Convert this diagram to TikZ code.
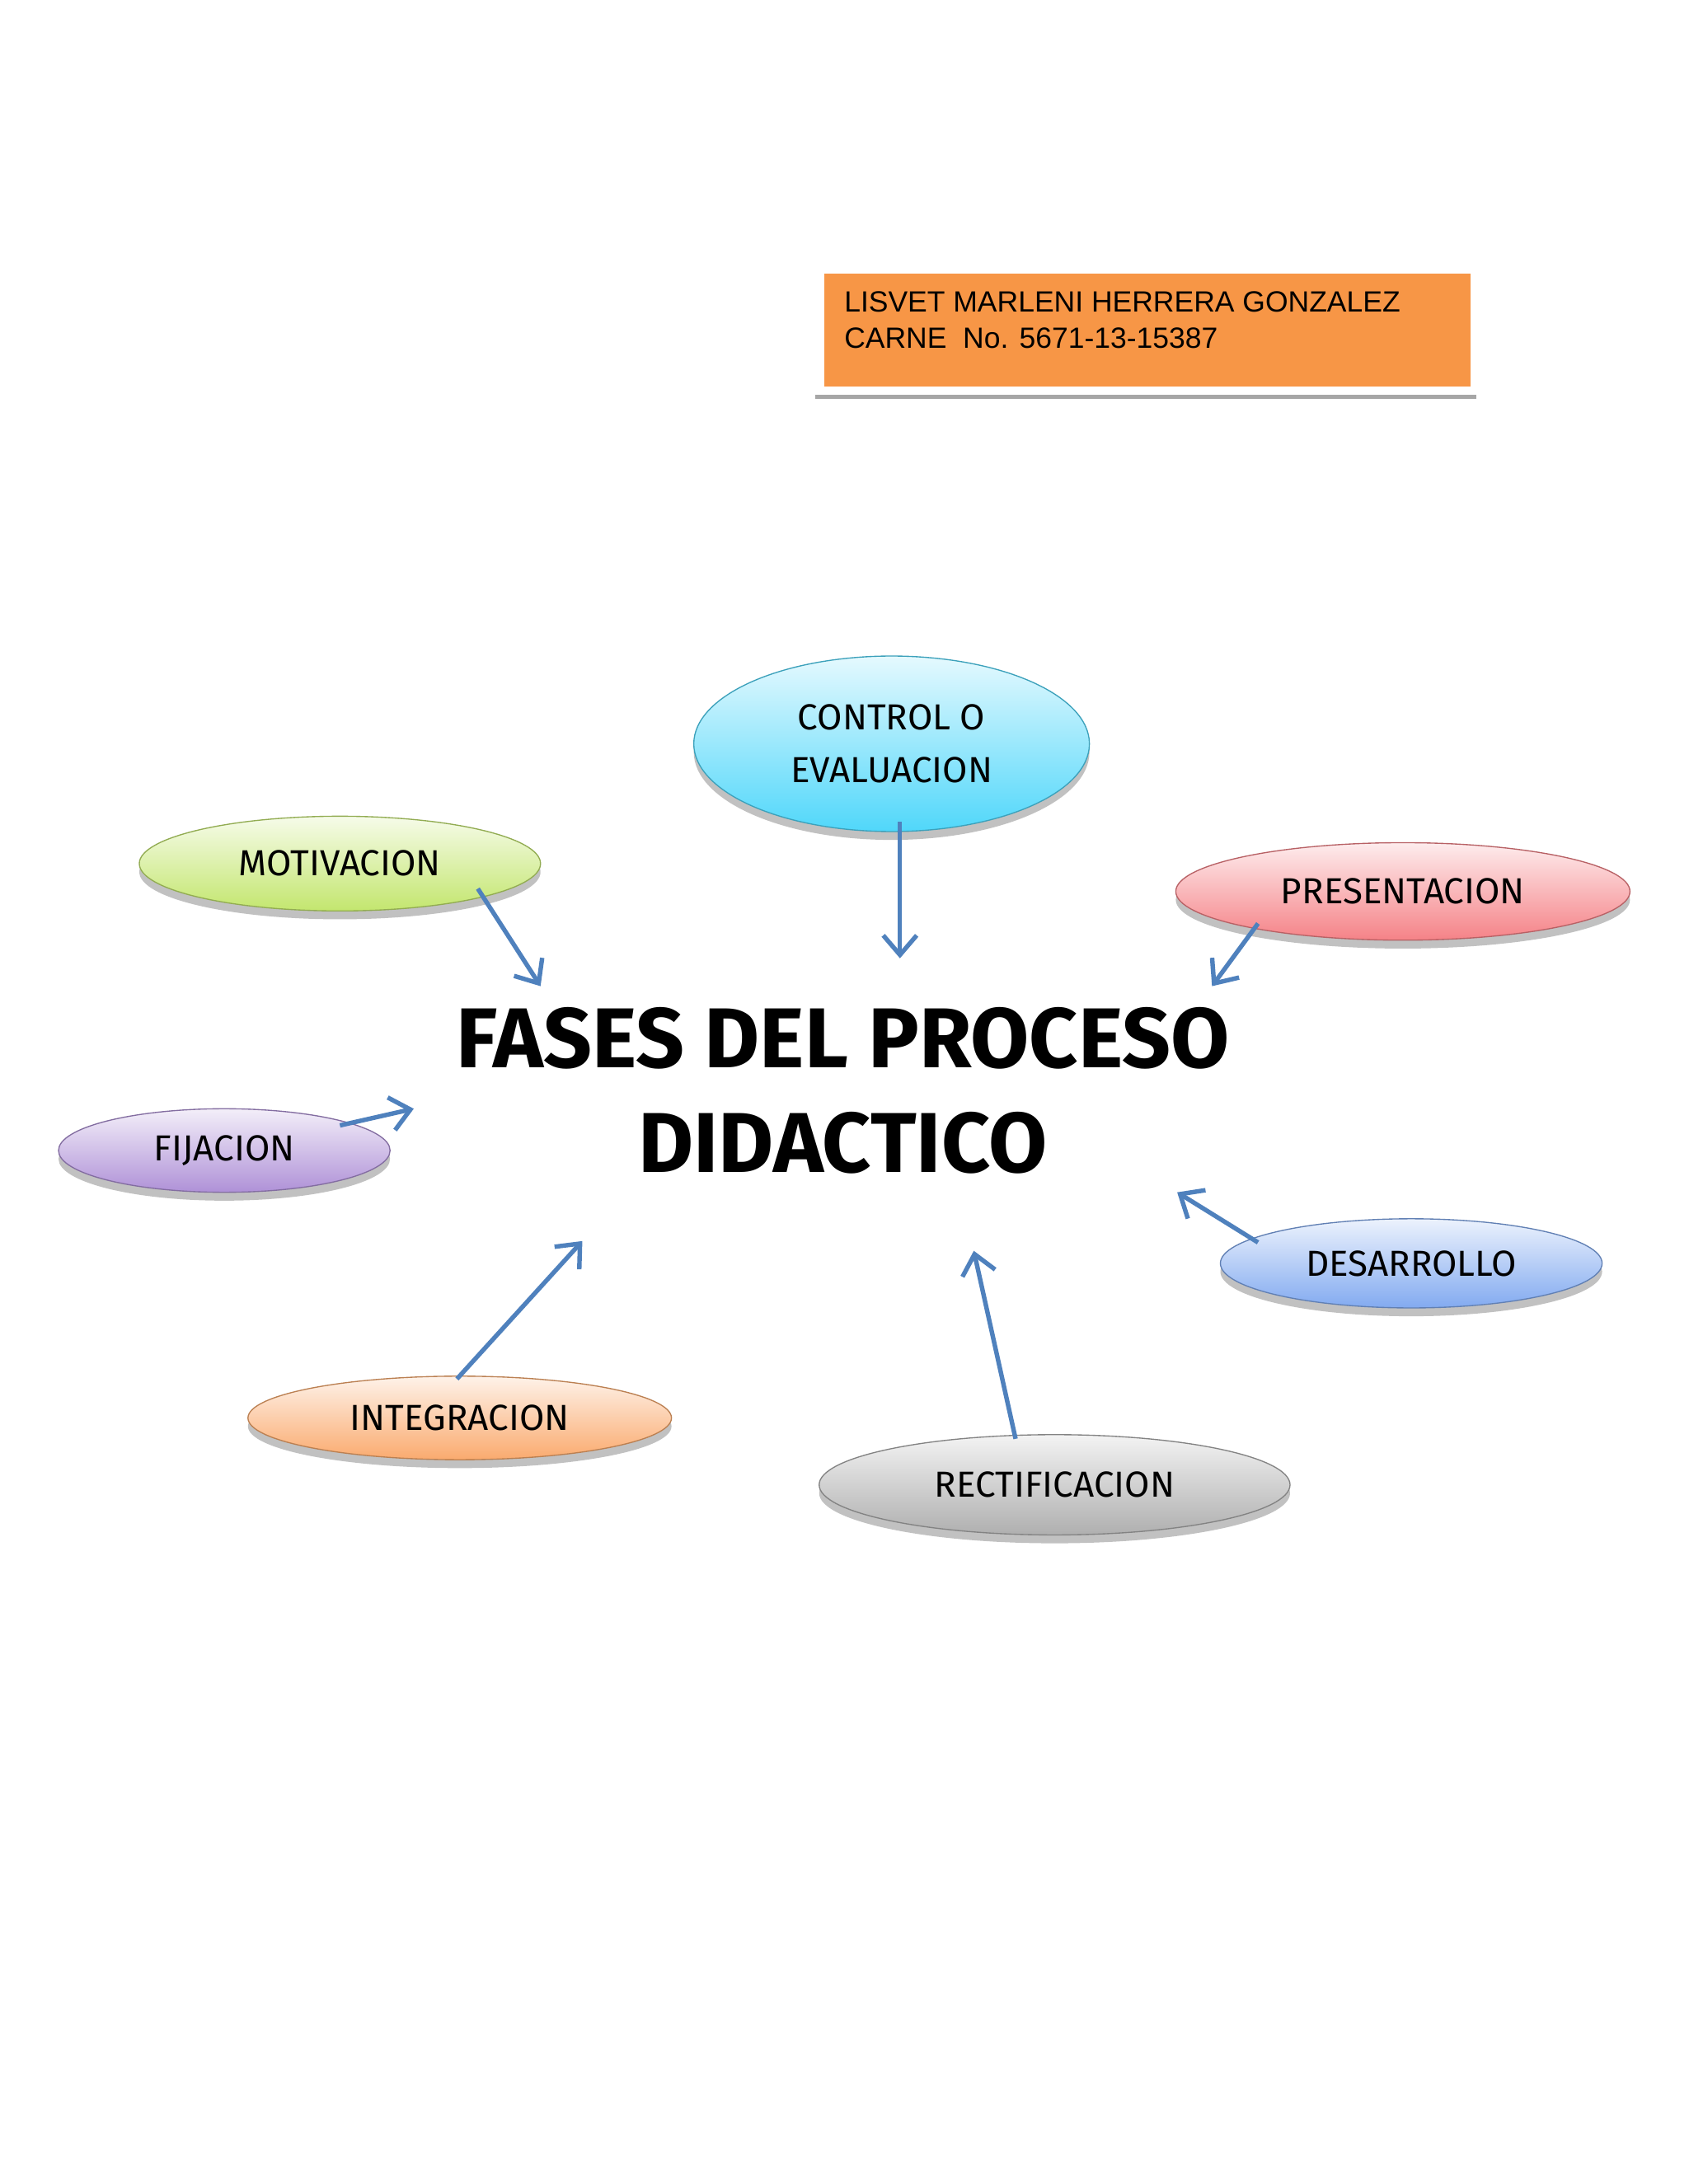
\documentclass[tikz,border=0pt]{standalone}
\usepackage{fontspec}
\setmainfont{Fira Sans}
\newfontfamily\boxfont{Liberation Sans}
\usetikzlibrary{shapes.geometric,arrows.meta,shadows}
\definecolor{arrowblue}{RGB}{79,129,189}
\definecolor{boxor}{RGB}{247,150,70}
\definecolor{cCy}{RGB}{80,215,250}
\definecolor{cGr}{RGB}{195,230,110}
\definecolor{cRe}{RGB}{245,130,135}
\definecolor{cVi}{RGB}{175,145,215}
\definecolor{cBl}{RGB}{130,170,240}
\definecolor{cOr}{RGB}{250,170,110}
\definecolor{cGy}{RGB}{175,175,175}
\tikzset{
 ph/.style={ellipse,draw=#1!75!black,top color=#1!15!white,bottom color=#1,inner sep=0pt,font=\fontsize{13}{15}\selectfont,
   drop shadow={shadow xshift=0pt,shadow yshift=-3pt,fill=black!40,opacity=.6}},
 arr/.style={draw=arrowblue,line width=1.6pt,-{Straight Barb[length=7pt,width=12pt]}}
}
\begin{document}
\begin{tikzpicture}[x=0.5pt,y=-0.5pt]
\useasboundingbox (0,0) rectangle (1212,1568);
\fill[white] (0,0) rectangle (1212,1568);
\node[fill=boxor,minimum width=232pt,minimum height=40.5pt,anchor=north west,inner sep=0pt] (box) at (591,196) {};
\node[anchor=west,font=\boxfont\fontsize{10.5}{13}\selectfont,align=left] (boxt) at (599,230) {LISVET MARLENI HERRERA GONZALEZ\\CARNE\ \ No. 5671-13-15387};
\draw[black!35,line width=1.5pt] (585,285) -- (1060,285);
\node[ph=cCy,minimum width=142pt,minimum height=63pt,align=center,font=\fontsize{13}{19}\selectfont] (ctrl) at (640,534) {CONTROL O\\EVALUACION};
\node[ph=cGr,minimum width=144pt,minimum height=34pt] (mot) at (244,620) {MOTIVACION};
\node[ph=cRe,minimum width=163pt,minimum height=35pt] (pre) at (1007,640) {PRESENTACION};
\node[ph=cVi,minimum width=119pt,minimum height=30pt] (fij) at (161,826) {FIJACION};
\node[ph=cBl,minimum width=137pt,minimum height=32pt] (des) at (1013,907) {DESARROLLO};
\node[ph=cOr,minimum width=152pt,minimum height=30pt] (int) at (330,1018) {INTEGRACION};
\node[ph=cGy,minimum width=169pt,minimum height=36pt] (rec) at (757,1066) {RECTIFICACION};
\node[font=\bfseries\fontsize{30.5}{37.5}\selectfont,align=center] (title) at (605,783) {FASES DEL PROCESO\\DIDACTICO};
\coordinate (c1) at (646,590); \coordinate (c2) at (646,688);
\coordinate (m1) at (343,638); \coordinate (m2) at (388,708);
\coordinate (p1) at (903,663); \coordinate (p2) at (870,708);
\coordinate (f1) at (244,808); \coordinate (f2) at (297,796);
\coordinate (d1) at (903,892); \coordinate (d2) at (845,856);
\coordinate (i1) at (328,990); \coordinate (i2) at (418,891);
\coordinate (r1) at (729,1033); \coordinate (r2) at (699,898);
\foreach \a/\b in {c1/c2,m1/m2,p1/p2,f1/f2,d1/d2,i1/i2,r1/r2} \draw[arr] (\a) -- (\b);
\end{tikzpicture}
\end{document}
